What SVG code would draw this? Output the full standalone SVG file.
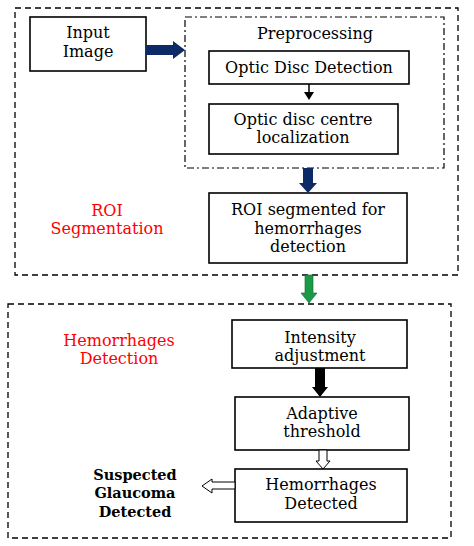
<svg xmlns="http://www.w3.org/2000/svg" width="474" height="546" viewBox="0 0 474 546">
<style>
.box{fill:#fff;stroke:#000;stroke-width:1.6}
.dash{fill:none;stroke:#000;stroke-width:1.3;stroke-dasharray:6 4}
.dashdot{fill:none;stroke:#000;stroke-width:1.2;stroke-dasharray:7 3 2 3}
.t{font-family:'DejaVu Serif','Liberation Serif',serif;font-size:16px;fill:#000;text-anchor:middle}
.red{fill:#ff0000}
.bold{font-weight:bold;font-size:14.5px}
</style>
<rect width="474" height="546" fill="#fff"/>
<g id="roi-segmentation-group">
<rect class="dash" x="15" y="8" width="443" height="267"/>
<text class="t red" x="107" y="216">ROI</text>
<text class="t red" x="107" y="234">Segmentation</text>
</g>
<g id="preprocessing-group">
<rect class="dashdot" x="185" y="17" width="259" height="151"/>
<text class="t" x="315" y="39">Preprocessing</text>
</g>
<g id="hemorrhages-detection-group">
<rect class="dash" x="8" y="304" width="443" height="234"/>
<text class="t red" x="119" y="346">Hemorrhages</text>
<text class="t red" x="119" y="364">Detection</text>
</g>
<g id="input-image">
<rect class="box" x="30" y="17" width="116" height="54"/>
<text class="t" x="88" y="38">Input</text>
<text class="t" x="88" y="57">Image</text>
</g>
<g id="optic-disc-detection">
<rect class="box" x="209" y="51" width="200" height="33"/>
<text class="t" x="309" y="73">Optic Disc Detection</text>
</g>
<g id="optic-disc-centre">
<rect class="box" x="209" y="104" width="189" height="50"/>
<text class="t" x="303" y="125">Optic disc centre</text>
<text class="t" x="303" y="143">localization</text>
</g>
<g id="roi-segmented">
<rect class="box" x="209" y="193" width="198" height="70"/>
<text class="t" x="308" y="215">ROI segmented for</text>
<text class="t" x="308" y="234">hemorrhages</text>
<text class="t" x="308" y="252">detection</text>
</g>
<g id="intensity-adjustment">
<rect class="box" x="232" y="320" width="175" height="48"/>
<text class="t" x="320" y="343">Intensity</text>
<text class="t" x="320" y="361">adjustment</text>
</g>
<g id="adaptive-threshold">
<rect class="box" x="235" y="397" width="174" height="53"/>
<text class="t" x="322" y="419">Adaptive</text>
<text class="t" x="322" y="437">threshold</text>
</g>
<g id="hemorrhages-detected">
<rect class="box" x="235" y="469" width="172" height="53"/>
<text class="t" x="321" y="490">Hemorrhages</text>
<text class="t" x="321" y="509">Detected</text>
</g>
<g id="suspected-glaucoma">
<text class="t bold" x="135" y="480">Suspected</text>
<text class="t bold" x="135" y="498">Glaucoma</text>
<text class="t bold" x="135" y="517">Detected</text>
</g>
<g id="connectors">
<polygon points="146,45 173,45 173,41 185,50 173,59 173,55 146,55" fill="#0b2a66"/>
<line x1="309" y1="84" x2="309" y2="93" stroke="#000" stroke-width="1.5"/>
<polygon points="304,92 314,92 309,100" fill="#000"/>
<polygon points="303,168 313,168 313,183 317,183 308,193 299,183 303,183" fill="#0b2a66"/>
<polygon points="305,275 313,275 313,293 317,293 309,303 301,293 305,293" fill="#1a9a46" stroke="#0a6a2a" stroke-width="0.6"/>
<polygon points="315,368 325,368 325,387 328,387 320,397 312,387 315,387" fill="#000"/>
<polygon points="319,450 327,450 327,461 330,461 323,469 316,461 319,461" fill="#fff" stroke="#000" stroke-width="1"/>
<polygon points="235,482 212,482 212,479 202,486 212,493 212,489 235,489" fill="#fff" stroke="#000" stroke-width="1"/>
</g>
</svg>
